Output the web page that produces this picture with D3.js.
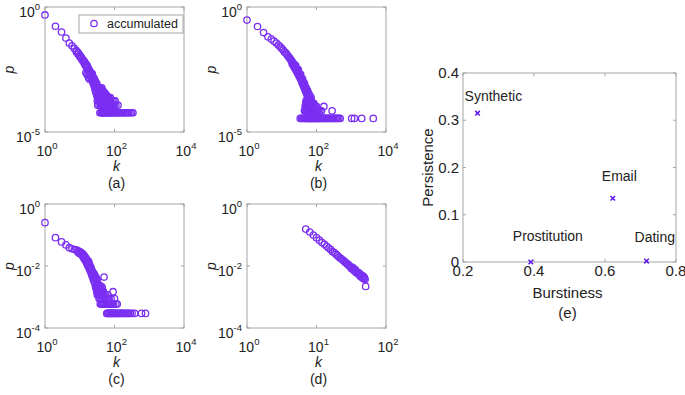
<!DOCTYPE html>
<html>
<head>
<meta charset="utf-8">
<script src="https://cdn.jsdelivr.net/npm/d3@7"></script>
<style>
  body { margin: 0; background: #fff; }
  svg { display: block; }
</style>
</head>
<body>
<div id="chart"></div>
<script>
// ==============================
// data
// ==============================

// (a) main diagonal + spread of the accumulated snapshots: [k, p]
const pointsA = [
  [1, 0.48], [2, 0.17], [3, 0.10], [4, 0.057], [5, 0.036], [6, 0.028], [7, 0.022], [8, 0.018],
  [9, 0.015], [10, 0.012], [11, 0.0098], [12, 0.0082], [13, 0.0071], [14, 0.0063], [15, 0.0052],
  [16, 0.0047], [17, 0.0040], [18, 0.0033], [19, 0.0029], [20, 0.0025], [21, 0.0024], [22, 0.0019],
  [23, 0.0021], [24, 0.0016], [25, 0.0012], [26, 0.0014], [27, 0.00098], [28, 0.0011], [29, 0.00083],
  [30, 0.00071], [31, 0.00089], [32, 0.00059], [33, 0.00065], [34, 0.00047], [35, 0.00053],
  [36, 0.00035], [37, 0.00041], [38, 0.00029], [39, 0.00024], [40, 0.00035],
  [8, 0.016], [9, 0.013], [10, 0.0105], [11, 0.0088], [12, 0.0072], [13, 0.0062], [14, 0.0050],
  [15, 0.0044], [16, 0.0036], [17, 0.0031], [18, 0.0027], [19, 0.0022], [20, 0.0019], [21, 0.0016],
  [22, 0.0013], [23, 0.0012], [24, 0.00095], [25, 0.00083], [26, 0.00071], [27, 0.00059],
  [28, 0.00047], [29, 0.00041], [30, 0.00035], [31, 0.00029],
  [15, 0.0024], [16, 0.0021], [17, 0.0018], [18, 0.0015], [19, 0.0013]
];
// (a) discrete low-probability levels (multiples of 1/N)
const levelsA = [
  { p: 5.9e-5, k: [38, 41, 43, 45, 47, 49, 52, 54, 57, 60, 63, 66, 70, 74, 78, 83, 88, 93, 99, 105, 112, 120, 128, 137, 147, 158, 170, 185, 200, 215, 235, 255, 280, 310, 340] },
  { p: 1.18e-4, k: [33, 36, 40, 42, 44, 46, 48, 50, 53, 55, 58, 61, 64, 67, 71, 75, 80, 86, 92, 98, 110, 126] },
  { p: 1.77e-4, k: [32, 35, 37, 41, 44, 47, 51, 56, 59, 62, 68, 72, 77, 85, 95, 104] },
  { p: 2.36e-4, k: [33, 36, 40, 43, 46, 50, 53, 57, 63, 69, 76] },
  { p: 2.95e-4, k: [34, 37, 39, 42, 45, 48, 52, 55, 60] },
  { p: 3.54e-4, k: [38, 41, 44, 47, 51, 54] },
  { p: 4.13e-4, k: [39, 43, 46, 49] },
  { p: 4.72e-4, k: [37, 42, 45] },
  { p: 5.9e-4, k: [36, 39, 43] }
];

// (b)
const pointsB = [
  [1, 0.30], [2, 0.166], [3, 0.095], [4, 0.064], [5, 0.052], [6, 0.043], [7, 0.036], [8, 0.030],
  [9, 0.026], [10, 0.022], [11, 0.019], [12, 0.016], [13, 0.0145], [14, 0.0128], [15, 0.0112],
  [16, 0.0100], [17, 0.0089], [18, 0.0080], [19, 0.0071], [20, 0.0064], [21, 0.0058], [22, 0.0053],
  [23, 0.0047], [24, 0.0044], [25, 0.0040], [26, 0.0037], [27, 0.0033], [28, 0.0031], [29, 0.0027],
  [30, 0.0026], [31, 0.0023], [32, 0.0021], [33, 0.0019], [34, 0.0018], [35, 0.0016], [36, 0.0015],
  [37, 0.0013], [38, 0.0012], [39, 0.0012], [40, 0.0010], [41, 0.00098], [42, 0.00088],
  [43, 0.00081], [44, 0.00074], [45, 0.00077], [46, 0.00063], [47, 0.00060], [48, 0.00053],
  [49, 0.00056], [50, 0.00046],
  [20, 0.0052], [22, 0.0043], [24, 0.0035], [26, 0.0029], [28, 0.0024], [30, 0.0020], [32, 0.0017],
  [34, 0.0014], [36, 0.0012], [38, 0.00098], [40, 0.00084], [42, 0.00070], [44, 0.00060],
  [46, 0.00053], [48, 0.00046], [50, 0.00039], [52, 0.00035], [55, 0.00028], [58, 0.00025],
  [25, 0.0046], [30, 0.0031], [35, 0.0020], [40, 0.0013], [45, 0.00088], [50, 0.00060],
  [55, 0.00046], [60, 0.00035], [65, 0.00028], [70, 0.00024]
];
const levelsB = [
  { p: 3.5e-5, k: [34, 37, 40, 43, 46, 49, 52, 55, 58, 61, 64, 67, 70, 74, 78, 82, 86, 90, 95, 100, 106, 112, 118, 125, 132, 140, 150, 160, 172, 185, 200, 215, 230, 250, 270, 290, 315, 340, 370, 400, 440, 480, 1030, 1230, 2000, 4300] },
  { p: 7.0e-5, k: [45, 48, 51, 54, 57, 60, 63, 66, 69, 72, 76, 80, 84, 88, 93, 98, 105, 115, 125, 140, 282] },
  { p: 1.05e-4, k: [47, 50, 53, 56, 59, 62, 65, 68, 71, 75, 79, 85, 92, 100, 163] },
  { p: 1.4e-4, k: [49, 52, 55, 58, 61, 64, 67, 70, 73, 78, 84] },
  { p: 1.75e-4, k: [50, 53, 56, 59, 62, 66, 70] },
  { p: 2.1e-4, k: [54, 57, 60, 63, 66] }
];

// (c)
const pointsC = [
  [1, 0.25], [2, 0.082], [3, 0.060], [4, 0.048], [5, 0.039], [6, 0.036], [7, 0.034], [8, 0.033],
  [9, 0.031], [10, 0.029], [11, 0.027], [12, 0.025], [13, 0.023], [14, 0.020], [15, 0.018],
  [16, 0.016], [17, 0.0135], [18, 0.014], [19, 0.0115], [20, 0.0100], [21, 0.0088], [22, 0.0077],
  [23, 0.0065], [24, 0.0062], [25, 0.0053], [26, 0.0056], [27, 0.0044], [28, 0.0047], [29, 0.0038],
  [30, 0.0041], [31, 0.0032], [32, 0.0035], [50, 0.0044],
  [9, 0.027], [10, 0.025], [12, 0.021], [13, 0.018], [14, 0.016], [15, 0.014], [16, 0.012],
  [17, 0.0105], [18, 0.0092], [19, 0.0080], [20, 0.0071], [21, 0.0062], [22, 0.0053], [23, 0.0047],
  [24, 0.0041], [25, 0.0035], [26, 0.0032], [27, 0.0030]
];
const levelsC = [
  { p: 2.96e-4, k: [60, 63, 66, 70, 74, 78, 82, 87, 92, 98, 104, 111, 118, 126, 135, 145, 156, 168, 182, 198, 215, 235, 258, 285, 320, 380, 600, 780] },
  { p: 5.9e-4, k: [39, 42, 45, 48, 51, 54, 58, 60, 64, 68, 72, 76, 82, 88, 95, 110, 120] },
  { p: 8.9e-4, k: [36, 38, 41, 44, 47, 52, 57, 62, 70, 80, 100] },
  { p: 1.18e-3, k: [32, 35, 37, 40, 43, 46, 50, 55, 65] },
  { p: 1.48e-3, k: [31, 34, 36, 38, 42, 48, 91] },
  { p: 1.78e-3, k: [30, 33, 35, 37, 40, 45] },
  { p: 2.07e-3, k: [29, 31, 34, 36, 39, 44] },
  { p: 2.37e-3, k: [28, 30, 33, 35, 38] }
];

// (d)
const pointsD = [
  [7, 0.155], [8, 0.125], [9, 0.100], [10, 0.082], [11, 0.068], [12, 0.057], [13, 0.050],
  [14, 0.043], [15, 0.038], [16, 0.034], [17, 0.029], [18, 0.027], [19, 0.024], [20, 0.022],
  [21, 0.0195], [22, 0.018], [23, 0.0168], [24, 0.0152], [25, 0.0145], [26, 0.0130], [27, 0.0124],
  [28, 0.0113], [29, 0.0108], [30, 0.0098], [31, 0.0094], [32, 0.0082], [33, 0.0090], [34, 0.0076],
  [35, 0.0070], [36, 0.0078], [37, 0.0062], [38, 0.0066], [39, 0.0058], [40, 0.0055], [41, 0.0060],
  [42, 0.0050], [43, 0.0046], [44, 0.0052], [45, 0.0044], [46, 0.0041], [47, 0.0047], [48, 0.0039],
  [49, 0.0042], [50, 0.0037], [51, 0.0022]
];

// (e)
const datasets = ['Synthetic', 'Prostitution', 'Email', 'Dating'];
const burstiness = [0.241, 0.391, 0.622, 0.717];
const persistence = [0.315, 0.0, 0.135, 0.002];

// ==============================
// drawing
// ==============================
const FONT = "'Liberation Sans', Arial, Helvetica, sans-serif";
const MARK = '#7a2ff2';
const XMARK = '#5a18ea';
const BOX = '#a6a6a6';
const INK = '#222';

const svg = d3.select('#chart').append('svg')
  .attr('width', 685).attr('height', 395)
  .style('font-family', FONT);

function flatten(points, levels) {
  const out = points.map((d) => ({ k: d[0], p: d[1] }));
  (levels || []).forEach((lv) => lv.k.forEach((k) => out.push({ k, p: lv.p })));
  return out;
}

function powLabel(g, x, y, exp, anchor) {
  const t = g.append('text')
    .attr('x', x).attr('y', y)
    .attr('text-anchor', anchor)
    .attr('font-size', 14)
    .attr('fill', INK);
  t.append('tspan').text('10');
  t.append('tspan').attr('dy', -6.5).attr('font-size', 9.5).text(exp);
}

function logPanel(cfg) {
  const { left, top, w, h, xExp, yExp, data, tag } = cfg;
  const g = svg.append('g');
  const x = d3.scaleLog().domain([10 ** xExp[0], 10 ** xExp[xExp.length - 1]]).range([left, left + w]);
  const y = d3.scaleLog().domain([10 ** yExp[yExp.length - 1], 10 ** yExp[0]]).range([top + h, top]);

  g.append('rect')
    .attr('x', left).attr('y', top).attr('width', w).attr('height', h)
    .attr('fill', 'none').attr('stroke', BOX).attr('stroke-width', 1);

  // ticks inside, mirrored
  xExp.forEach((e) => {
    const px = x(10 ** e);
    g.append('line').attr('x1', px).attr('x2', px).attr('y1', top + h).attr('y2', top + h - 3).attr('stroke', BOX);
    g.append('line').attr('x1', px).attr('x2', px).attr('y1', top).attr('y2', top + 3).attr('stroke', BOX);
    powLabel(g, px + 2, top + h + 23.5, e, 'middle');
  });
  yExp.forEach((e) => {
    const py = y(10 ** e);
    g.append('line').attr('x1', left).attr('x2', left + 3).attr('y1', py).attr('y2', py).attr('stroke', BOX);
    g.append('line').attr('x1', left + w).attr('x2', left + w - 3).attr('y1', py).attr('y2', py).attr('stroke', BOX);
    powLabel(g, left - 5, py + 9.5, e, 'end');
  });

  g.selectAll('circle.pt')
    .data(data)
    .join('circle')
    .attr('class', 'pt')
    .attr('cx', (d) => x(d.k))
    .attr('cy', (d) => y(d.p))
    .attr('r', 3.2)
    .attr('fill', 'none')
    .attr('stroke', MARK)
    .attr('stroke-width', 1.3);

  const cx = left + w / 2 + 2;
  g.append('text').attr('x', cx).attr('y', top + h + 39)
    .attr('text-anchor', 'middle').attr('font-size', 14).attr('font-style', 'italic')
    .attr('fill', INK).text('k');
  g.append('text').attr('x', cx).attr('y', top + h + 56)
    .attr('text-anchor', 'middle').attr('font-size', 14).attr('fill', INK).text(tag);
  g.append('text')
    .attr('transform', `translate(${left - 31},${top + h / 2}) rotate(-90)`)
    .attr('text-anchor', 'middle').attr('font-size', 14).attr('font-style', 'italic')
    .attr('fill', INK).text('p');
  return g;
}

const gA = logPanel({ left: 45, top: 7, w: 139, h: 125, xExp: [0, 2, 4], yExp: [0, -5], data: flatten(pointsA, levelsA), tag: '(a)' });
logPanel({ left: 247, top: 7, w: 139, h: 125, xExp: [0, 2, 4], yExp: [0, -5], data: flatten(pointsB, levelsB), tag: '(b)' });
logPanel({ left: 45, top: 204, w: 139, h: 124, xExp: [0, 2, 4], yExp: [0, -2, -4], data: flatten(pointsC, levelsC), tag: '(c)' });
logPanel({ left: 247, top: 204, w: 139, h: 124, xExp: [0, 1, 2], yExp: [0, -2, -4], data: flatten(pointsD), tag: '(d)' });

// legend in (a)
const lg = gA.append('g');
lg.append('rect').attr('x', 79).attr('y', 15).attr('width', 104).attr('height', 18)
  .attr('fill', '#fff').attr('stroke', BOX);
lg.append('circle').attr('cx', 94).attr('cy', 23.5).attr('r', 3.2)
  .attr('fill', 'none').attr('stroke', MARK).attr('stroke-width', 1.3);
lg.append('text').attr('x', 107).attr('y', 28).attr('font-size', 12.5).attr('fill', INK).text('accumulated');

// (e) burstiness vs persistence
(function () {
  const left = 463, top = 73, w = 213, h = 189;
  const g = svg.append('g');
  const x = d3.scaleLinear().domain([0.2, 0.8]).range([left, left + w]);
  const y = d3.scaleLinear().domain([0, 0.4]).range([top + h, top]);

  g.append('rect').attr('x', left).attr('y', top).attr('width', w).attr('height', h)
    .attr('fill', 'none').attr('stroke', BOX);

  [0.2, 0.4, 0.6, 0.8].forEach((v) => {
    const px = x(v);
    g.append('line').attr('x1', px).attr('x2', px).attr('y1', top + h).attr('y2', top + h - 3).attr('stroke', BOX);
    g.append('line').attr('x1', px).attr('x2', px).attr('y1', top).attr('y2', top + 3).attr('stroke', BOX);
    g.append('text').attr('x', px).attr('y', top + h + 14).attr('text-anchor', 'middle')
      .attr('font-size', 15).attr('fill', INK).text(d3.format('.1f')(v));
  });
  [0, 0.1, 0.2, 0.3, 0.4].forEach((v) => {
    const py = y(v);
    g.append('line').attr('x1', left).attr('x2', left + 3).attr('y1', py).attr('y2', py).attr('stroke', BOX);
    g.append('line').attr('x1', left + w).attr('x2', left + w - 3).attr('y1', py).attr('y2', py).attr('stroke', BOX);
    g.append('text').attr('x', left - 4).attr('y', py + 5).attr('text-anchor', 'end')
      .attr('font-size', 15).attr('fill', INK).text(v === 0 ? '0' : d3.format('.1f')(v));
  });

  const pts = datasets.map((name, i) => ({ name, b: burstiness[i], p: persistence[i] }));
  const s = 2.3;
  pts.forEach((d) => {
    const px = x(d.b), py = y(d.p);
    g.append('path')
      .attr('d', `M${px - s},${py - s}L${px + s},${py + s}M${px - s},${py + s}L${px + s},${py - s}`)
      .attr('stroke', XMARK).attr('stroke-width', 1.5).attr('fill', 'none');
  });

  // label placement offsets (pixels) relative to each point
  const labelOffset = { Synthetic: [-13, -12], Prostitution: [-18, -21], Email: [-11, -17], Dating: [-12, -19] };
  pts.forEach((d) => {
    const [dx, dy] = labelOffset[d.name];
    g.append('text').attr('x', x(d.b) + dx).attr('y', y(d.p) + dy)
      .attr('font-size', 14).attr('fill', INK).text(d.name);
  });

  g.append('text').attr('x', left + w / 2 - 2).attr('y', top + h + 36).attr('text-anchor', 'middle')
    .attr('font-size', 15).attr('fill', INK).text('Burstiness');
  g.append('text').attr('x', left + w / 2 - 2).attr('y', top + h + 56).attr('text-anchor', 'middle')
    .attr('font-size', 15).attr('fill', INK).text('(e)');
  g.append('text')
    .attr('transform', `translate(${left - 30},${top + h / 2}) rotate(-90)`)
    .attr('text-anchor', 'middle').attr('font-size', 15).attr('fill', INK).text('Persistence');
})();
</script>
</body>
</html>
